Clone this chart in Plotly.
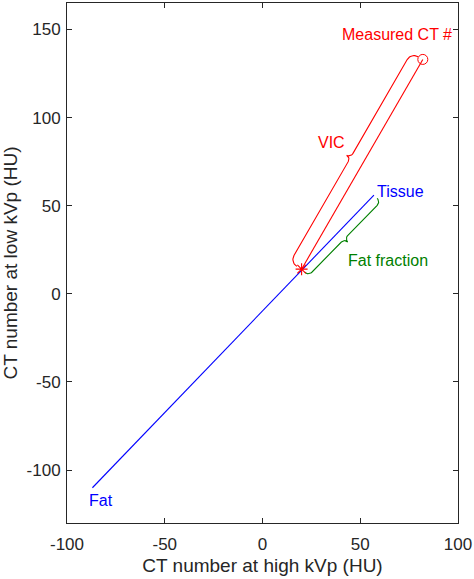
import numpy as np
import plotly.graph_objects as go

# ---- data (HU) ----
fat_pt = [-87, -110]
tissue_pt = [57, 56]
mixture_pt = [20, 14]
measured_pt = [82, 133]

x_range = [-100, 100]
y_range = [-130, 165]
x_ticks = [-100, -50, 0, 50, 100]
y_ticks = [-100, -50, 0, 50, 100, 150]
x_ticktext = ["-100", "-50", "0", "50", "100"]
y_ticktext = ["-100", "-50", "0", "50", "100", "150"]

labels = {
    "Measured CT #": dict(pos=[98, 147], color="#FF0000", anchor="right"),
    "VIC": dict(pos=[43, 86], color="#FF0000", anchor="right"),
    "Tissue": dict(pos=[57.5, 58], color="#0000FF", anchor="left"),
    "Fat fraction": dict(pos=[42.5, 19], color="#008000", anchor="left"),
    "Fat": dict(pos=[-90, -117], color="#0000FF", anchor="left"),
}

# ---- layout geometry ----
W, H = 474, 579
ML, MR, MT, MB = 67, 14, 2, 56
PW, PH = W - ML - MR, H - MT - MB
sx = PW / (x_range[1] - x_range[0])
sy = PH / (y_range[1] - y_range[0])


def brace(p0, p1, h, c, r, side):
    """Curly brace between p0 and p1 (data), offsets given in pixels."""
    P0 = np.array([p0[0] * sx, p0[1] * sy])
    P1 = np.array([p1[0] * sx, p1[1] * sy])
    d = P1 - P0
    L = np.hypot(*d)
    u = d / L
    v = np.array([-u[1], u[0]]) if side == "left" else np.array([u[1], -u[0]])
    pts = []
    for t in np.linspace(np.pi, np.pi / 2, 12):
        pts.append((r + r * np.cos(t), (h - r) + r * np.sin(t)))
    for t in np.linspace(-np.pi / 2, 0, 8):
        pts.append((L / 2 - c + c * np.cos(t), h + c + c * np.sin(t)))
    for t in np.linspace(np.pi, 3 * np.pi / 2, 8):
        pts.append((L / 2 + c + c * np.cos(t), h + c + c * np.sin(t)))
    for t in np.linspace(np.pi / 2, 0, 12):
        pts.append((L - r + r * np.cos(t), (h - r) + r * np.sin(t)))
    xs, ys = [], []
    for a, b in pts:
        q = P0 + a * u + b * v
        xs.append(q[0] / sx)
        ys.append(q[1] / sy)
    return xs, ys


fig = go.Figure()

fig.add_trace(go.Scatter(x=[fat_pt[0], tissue_pt[0]], y=[fat_pt[1], tissue_pt[1]],
                         mode="lines", line=dict(color="#0000FF", width=1.1)))
fig.add_trace(go.Scatter(x=[mixture_pt[0], measured_pt[0]], y=[mixture_pt[1], measured_pt[1]],
                         mode="lines", line=dict(color="#FF0000", width=1.1)))
bx, by = brace(mixture_pt, measured_pt, 13.5, 4.5, 8, "left")
fig.add_trace(go.Scatter(x=bx, y=by, mode="lines", line=dict(color="#FF0000", width=1.1)))
gx, gy = brace(mixture_pt, tissue_pt, 9.5, 4.5, 5, "right")
fig.add_trace(go.Scatter(x=gx, y=gy, mode="lines", line=dict(color="#008000", width=1.1)))
fig.add_trace(go.Scatter(x=[measured_pt[0]], y=[measured_pt[1]], mode="markers",
                         marker=dict(symbol="circle-open", size=10, color="#FF0000",
                                     line=dict(width=1, color="#FF0000"))))
fig.add_trace(go.Scatter(x=[mixture_pt[0]], y=[mixture_pt[1]], mode="markers",
                         marker=dict(symbol="asterisk-open", size=10, color="#FF0000",
                                     line=dict(width=1.1, color="#FF0000"))))

for text, spec in labels.items():
    fig.add_annotation(x=spec["pos"][0], y=spec["pos"][1], text=text, showarrow=False,
                       xanchor=spec["anchor"], yanchor="middle",
                       font=dict(family="Liberation Sans, Arial", size=16, color=spec["color"]))

axis_common = dict(showline=True, linecolor="#262626", linewidth=1, mirror="ticks",
                   ticks="inside", ticklen=5, tickcolor="#262626", tickwidth=1,
                   showgrid=False, zeroline=False, ticklabeloverflow="allow",
                   tickfont=dict(family="Liberation Sans, Arial", size=17, color="#262626"))

fig.update_layout(
    width=W, height=H, margin=dict(l=ML, r=MR, t=MT, b=MB),
    paper_bgcolor="white", plot_bgcolor="white", showlegend=False,
    xaxis=dict(range=x_range, tickvals=x_ticks, ticktext=x_ticktext, ticklabelstandoff=6,
               **axis_common,
               title=dict(text="CT number at high kVp (HU)", standoff=5,
                          font=dict(family="Liberation Sans, Arial", size=19, color="#262626"))),
    yaxis=dict(range=y_range, tickvals=y_ticks, ticktext=y_ticktext, ticklabelstandoff=2,
               **axis_common,
               title=dict(text="CT number at low kVp (HU)", standoff=6,
                          font=dict(family="Liberation Sans, Arial", size=19, color="#262626"))),
)

fig.write_html("out.html")
